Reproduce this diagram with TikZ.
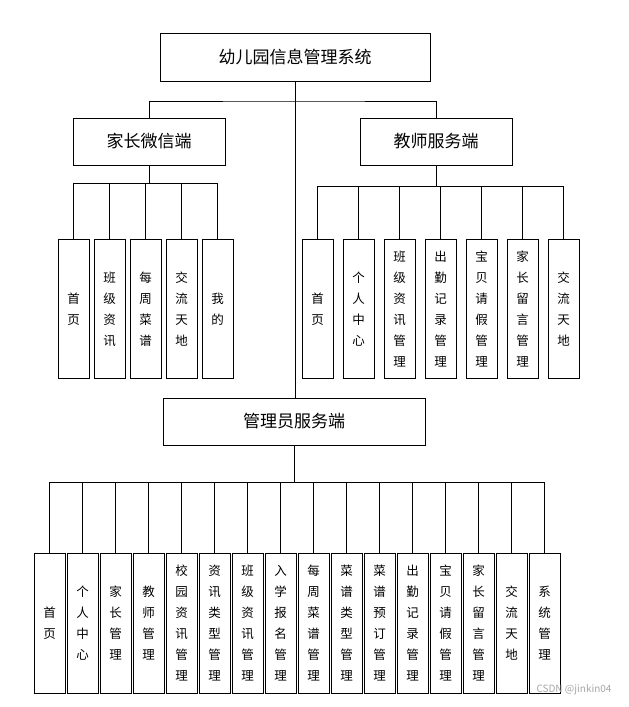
\documentclass[tikz,border=0pt]{standalone}
\usepackage{fontspec}
\setmainfont{Noto Sans CJK SC}
\begin{document}
\begin{tikzpicture}[x=1pt,y=-1pt,
  box/.style={draw,thick,fill=white,font=\fontsize{13}{15}\selectfont},
  head/.style={box,font=\fontsize{17}{20}\selectfont},
  leaf/.style={box,minimum width=31pt,minimum height=139pt,inner sep=0pt,align=center,font=\fontsize{12.5}{21}\selectfont},
  ln/.style={thick}]
\useasboundingbox[fill=white] (0,0) rectangle (629,707);
\node[head,minimum width=270pt,minimum height=48pt] (top) at (295,57) {幼儿园信息管理系统};
\node[head,minimum width=152pt,minimum height=47pt] (par) at (149,141.5) {家长微信端};
\node[head,minimum width=152pt,minimum height=47pt] (tea) at (436,141.5) {教师服务端};
\node[head,minimum width=262pt,minimum height=47pt] (adm) at (294,421.5) {管理员服务端};
\coordinate (j1) at (295,101);
\draw[ln] (top.south) -- (j1);
\draw[ln] (top.south) -- (top.south|-adm.north);
\draw[ln] (par.north) |- (j1) -| (tea.north);
% parent leaves
\coordinate (pj) at (149,183);
\draw[ln] (par.south) -- (pj);
\foreach [count=\i from 0] \t in {首\\页,班\\级\\资\\讯,每\\周\\菜\\谱,交\\流\\天\\地,我\\的}{
  \node[leaf] (p\i) at (73.5+36*\i,309) {\t};
  \draw[ln] (p\i.north) -- (p\i.north|-pj);
}
\draw[ln] (p0.north|-pj) -- (p4.north|-pj);
% teacher leaves
\coordinate (tj) at (436,186);
\draw[ln] (tea.south) -- (tj);
\foreach [count=\i from 0] \t in {首\\页,个\\人\\中\\心,班\\级\\资\\讯\\管\\理,出\\勤\\记\\录\\管\\理,宝\\贝\\请\\假\\管\\理,家\\长\\留\\言\\管\\理,交\\流\\天\\地}{
  \node[leaf] (t\i) at (317.5+41*\i,309) {\t};
  \draw[ln] (t\i.north) -- (t\i.north|-tj);
}
\draw[ln] (t0.north|-tj) -- (t6.north|-tj);
% admin leaves
\coordinate (aj) at (294,482);
\draw[ln] (adm.south) -- (aj);
\foreach [count=\i from 0] \t in {首\\页,个\\人\\中\\心,家\\长\\管\\理,教\\师\\管\\理,校\\园\\资\\讯\\管\\理,资\\讯\\类\\型\\管\\理,班\\级\\资\\讯\\管\\理,入\\学\\报\\名\\管\\理,每\\周\\菜\\谱\\管\\理,菜\\谱\\类\\型\\管\\理,菜\\谱\\预\\订\\管\\理,出\\勤\\记\\录\\管\\理,宝\\贝\\请\\假\\管\\理,家\\长\\留\\言\\管\\理,交\\流\\天\\地,系\\统\\管\\理}{
  \node[leaf,minimum height=140pt] (a\i) at (49.5+33*\i,623) {\t};
  \draw[ln] (a\i.north) -- (a\i.north|-aj);
}
\draw[ln] (a0.north|-aj) -- (a15.north|-aj);
\node[text=gray!70,font=\fontsize{10}{12}\selectfont,anchor=east] (wm) at (615,690) {CSDN @jinkin04};
\end{tikzpicture}
\end{document}
